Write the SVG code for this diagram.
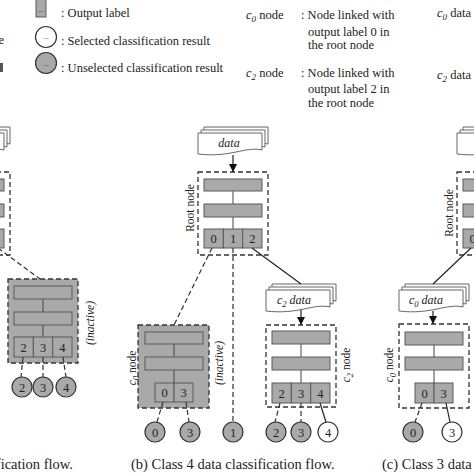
<svg xmlns="http://www.w3.org/2000/svg" width="474" height="474" viewBox="0 0 474 474">
<style>
text{font-family:"Liberation Serif","DejaVu Serif",serif;fill:#222}
.lg{font-size:12.5px}
.cap{font-size:14.5px}
.num{font-size:12.5px;text-anchor:middle}
.rl{font-size:11.5px;text-anchor:middle}
.it{font-style:italic}
.dt{font-size:12px;font-style:italic;text-anchor:middle}
.bar{fill:#a9a9a9;stroke:#5a5a5a;stroke-width:1}
.box{fill:none;stroke:#333;stroke-width:1.3;stroke-dasharray:5 3}
.boxg{fill:#a9a9a9;stroke:#333;stroke-width:1.3;stroke-dasharray:5 3}
.vl{stroke:#444;stroke-width:1;fill:none}
.dl{stroke:#333;stroke-width:1.2;stroke-dasharray:5 3;fill:none}
.sl{stroke:#222;stroke-width:1.2;fill:none}
.cg{fill:#a9a9a9;stroke:#333;stroke-width:1.2}
.cw{fill:#fff;stroke:#333;stroke-width:1.2}
.doc{fill:#fff;stroke:#666;stroke-width:1}
</style>
<defs>
<path id="doc" d="M0,0 H64 V17 C48,13 32,25 0,21 Z"/>
<g id="stack">
<use href="#doc" class="doc" transform="translate(6,-6)"/>
<use href="#doc" class="doc" transform="translate(3,-3)"/>
<use href="#doc" class="doc"/>
</g>
<marker id="ah" viewBox="0 0 10 10" refX="10" refY="5" markerWidth="8" markerHeight="8" markerUnits="userSpaceOnUse" orient="auto">
<path d="M0,0 L10,5 L0,10 Z" fill="#111"/>
</marker>
</defs>

<!-- Legend -->
<g id="legend">
<text class="lg" x="4" y="44" text-anchor="end">e</text>
<rect x="-10" y="63" width="13" height="9" fill="#555"/>
<rect x="36" y="-2" width="10" height="19" class="bar"/>
<text x="41" y="12" font-size="7" text-anchor="middle">...</text>
<text class="lg" x="61" y="17">: Output label</text>
<circle cx="46" cy="37" r="10.5" class="cw"/>
<text x="46" y="39" font-size="7" text-anchor="middle">...</text>
<text class="lg" x="61" y="45">: Selected classification result</text>
<circle cx="46" cy="63" r="10.5" class="cg"/>
<text x="46" y="66" font-size="7" text-anchor="middle">...</text>
<text class="lg" x="61" y="72">: Unselected classification result</text>
<text class="lg" x="246" y="19"><tspan class="it">c</tspan><tspan class="it" font-size="9" dy="3">0</tspan><tspan dy="-3"> node</tspan></text>
<text class="lg" x="301" y="19">: Node linked with</text>
<text class="lg" x="308" y="36">output label 0 in</text>
<text class="lg" x="308" y="49">the root node</text>
<text class="lg" x="246" y="77"><tspan class="it">c</tspan><tspan class="it" font-size="9" dy="3">2</tspan><tspan dy="-3"> node</tspan></text>
<text class="lg" x="301" y="77">: Node linked with</text>
<text class="lg" x="308" y="93">output label 2 in</text>
<text class="lg" x="308" y="107">the root node</text>
<text class="lg" x="437" y="17"><tspan class="it">c</tspan><tspan class="it" font-size="9" dy="3">0</tspan><tspan dy="-3"> data</tspan></text>
<text class="lg" x="437" y="79"><tspan class="it">c</tspan><tspan class="it" font-size="9" dy="3">2</tspan><tspan dy="-3"> data</tspan></text>
</g>

<!-- Panel (a) -->
<g id="a-data"><use href="#stack" transform="translate(-60,133)"/></g>
<g id="a-root">
<rect x="-60" y="172" width="70" height="83" class="box"/>
<rect x="-54" y="179" width="58" height="12" class="bar"/>
<rect x="-54" y="204" width="58" height="13" class="bar"/>
<rect x="-54" y="229" width="58" height="19" class="bar"/>
</g>
<g id="a-c2node">
<rect x="8" y="279" width="70" height="84" class="boxg"/>
<line x1="43" y1="299" x2="43" y2="312" class="vl"/>
<line x1="43" y1="325" x2="43" y2="337" class="vl"/>
<rect x="14" y="286" width="58" height="13" class="bar"/>
<rect x="14" y="312" width="58" height="13" class="bar"/>
<rect x="14" y="337" width="19.33" height="20" class="bar"/>
<rect x="33.33" y="337" width="19.33" height="20" class="bar"/>
<rect x="52.67" y="337" width="19.33" height="20" class="bar"/>
<text class="num" x="23.7" y="352">2</text>
<text class="num" x="43" y="352">3</text>
<text class="num" x="62.3" y="352">4</text>
<text class="rl it" transform="translate(94,323) rotate(-90)">(inactive)</text>
</g>
<g id="a-results">
<circle cx="22" cy="387" r="10" class="cg"/><text class="num" x="22" y="391.5">2</text>
<circle cx="43" cy="387" r="10" class="cg"/><text class="num" x="43" y="391.5">3</text>
<circle cx="66" cy="387" r="10" class="cg"/><text class="num" x="66" y="391.5">4</text>
</g>
<text class="cap" x="73" y="469" text-anchor="end">classification flow.</text>

<!-- Panel (b) -->
<g id="b-data">
<use href="#stack" transform="translate(198,133)"/>
<text class="dt" x="229" y="147">data</text>
</g>
<g id="b-root">
<rect x="198" y="172" width="70" height="83" class="box"/>
<line x1="233" y1="191" x2="233" y2="204" class="vl"/>
<line x1="233" y1="217" x2="233" y2="229" class="vl"/>
<rect x="204" y="179" width="58" height="12" class="bar"/>
<rect x="204" y="204" width="58" height="13" class="bar"/>
<rect x="204" y="229" width="19.33" height="19" class="bar"/>
<rect x="223.33" y="229" width="19.33" height="19" class="bar"/>
<rect x="242.67" y="229" width="19.33" height="19" class="bar"/>
<text class="num" x="213.7" y="243">0</text>
<text class="num" x="233" y="243">1</text>
<text class="num" x="252.3" y="243">2</text>
<text class="rl" transform="translate(194,208) rotate(-90)">Root node</text>
</g>
<g id="b-c0node">
<rect x="138" y="325" width="71" height="83" class="boxg"/>
<line x1="174" y1="344" x2="174" y2="357" class="vl"/>
<line x1="174" y1="370" x2="174" y2="383" class="vl"/>
<rect x="145" y="332" width="58" height="12" class="bar"/>
<rect x="145" y="357" width="58" height="13" class="bar"/>
<rect x="155" y="383" width="19" height="19" class="bar"/>
<rect x="174" y="383" width="19" height="19" class="bar"/>
<text class="num" x="164.5" y="397">0</text>
<text class="num" x="183.5" y="397">3</text>
<text class="rl" transform="translate(136,368) rotate(-90)"><tspan class="it">c</tspan><tspan class="it" font-size="8.5" dy="3">0</tspan><tspan dy="-3"> node</tspan></text>
<text class="rl it" transform="translate(223,363) rotate(-90)">(inactive)</text>
</g>
<g id="b-c2data">
<use href="#stack" transform="translate(266,290)"/>
<text class="dt" x="294" y="304"><tspan>c</tspan><tspan font-size="8.5" dy="3">2</tspan><tspan dy="-3"> data</tspan></text>
</g>
<g id="b-c2node">
<rect x="266" y="325" width="70" height="82" class="box"/>
<line x1="301" y1="344" x2="301" y2="357" class="vl"/>
<line x1="301" y1="370" x2="301" y2="383" class="vl"/>
<rect x="272" y="331" width="58" height="13" class="bar"/>
<rect x="272" y="357" width="58" height="13" class="bar"/>
<rect x="272" y="383" width="19.33" height="20" class="bar"/>
<rect x="291.33" y="383" width="19.33" height="20" class="bar"/>
<rect x="310.67" y="383" width="19.33" height="20" class="bar"/>
<text class="num" x="281.7" y="398">2</text>
<text class="num" x="301" y="398">3</text>
<text class="num" x="320.3" y="398">4</text>
<text class="rl" transform="translate(350,365) rotate(-90)"><tspan class="it">c</tspan><tspan class="it" font-size="8.5" dy="3">2</tspan><tspan dy="-3"> node</tspan></text>
</g>
<g id="b-results">
<circle cx="155" cy="432" r="10" class="cg"/><text class="num" x="155" y="436.5">0</text>
<circle cx="190" cy="432" r="10" class="cg"/><text class="num" x="190" y="436.5">3</text>
<circle cx="233" cy="432" r="10" class="cg"/><text class="num" x="233" y="436.5">1</text>
<circle cx="276" cy="432" r="10" class="cg"/><text class="num" x="276" y="436.5">2</text>
<circle cx="301" cy="432" r="10" class="cg"/><text class="num" x="301" y="436.5">3</text>
<circle cx="328" cy="432" r="10" class="cw"/><text class="num" x="328" y="436.5">4</text>
</g>
<text class="cap" x="131" y="469">(b) Class 4 data classification flow.</text>

<!-- Panel (c) -->
<g id="c-data"><use href="#stack" transform="translate(457,133)"/></g>
<g id="c-root">
<rect x="457" y="172" width="70" height="83" class="box"/>
<rect x="463" y="179" width="58" height="12" class="bar"/>
<rect x="463" y="204" width="58" height="13" class="bar"/>
<rect x="463" y="229" width="19.33" height="19" class="bar"/>
<rect x="482.33" y="229" width="19.33" height="19" class="bar"/>
<text class="num" x="472.7" y="243">0</text>
<text class="rl" transform="translate(453,213) rotate(-90)">Root node</text>
</g>
<g id="c-c0data">
<use href="#stack" transform="translate(399,290)"/>
<text class="dt" x="426" y="304"><tspan>c</tspan><tspan font-size="8.5" dy="3">0</tspan><tspan dy="-3"> data</tspan></text>
</g>
<g id="c-c0node">
<rect x="399" y="324" width="70" height="84" class="box"/>
<line x1="434" y1="345" x2="434" y2="357" class="vl"/>
<line x1="434" y1="370" x2="434" y2="383" class="vl"/>
<rect x="405" y="332" width="58" height="13" class="bar"/>
<rect x="405" y="357" width="58" height="13" class="bar"/>
<rect x="415" y="383" width="19" height="20" class="bar"/>
<rect x="434" y="383" width="19" height="20" class="bar"/>
<text class="num" x="424.5" y="398">0</text>
<text class="num" x="443.5" y="398">3</text>
<text class="rl" transform="translate(393,365) rotate(-90)"><tspan class="it">c</tspan><tspan class="it" font-size="8.5" dy="3">0</tspan><tspan dy="-3"> node</tspan></text>
</g>
<g id="c-results">
<circle cx="413" cy="432" r="10" class="cg"/><text class="num" x="413" y="436.5">0</text>
<circle cx="452" cy="432" r="10" class="cw"/><text class="num" x="452" y="436.5">3</text>
</g>
<text class="cap" x="382" y="469">(c) Class 3 data classification flow.</text>

<!-- Connectors -->
<g id="connectors">
<line x1="-2" y1="248" x2="40" y2="279" class="dl"/>
<line x1="23" y1="357" x2="21" y2="377" class="dl"/>
<line x1="43" y1="357" x2="43" y2="377" class="dl"/>
<line x1="63" y1="357" x2="66" y2="377" class="dl"/>
<line x1="233" y1="155" x2="233" y2="172" class="sl" marker-end="url(#ah)"/>
<line x1="212" y1="248" x2="174" y2="325" class="dl"/>
<line x1="233" y1="248" x2="233" y2="422" class="dl"/>
<line x1="252" y1="248" x2="301" y2="284" class="sl"/>
<line x1="301" y1="310" x2="301" y2="325" class="sl" marker-end="url(#ah)"/>
<line x1="163" y1="402" x2="157" y2="422" class="dl"/>
<line x1="186" y1="402" x2="189" y2="422" class="dl"/>
<line x1="280" y1="403" x2="275" y2="422" class="dl"/>
<line x1="301" y1="403" x2="301" y2="422" class="dl"/>
<line x1="320" y1="403" x2="326" y2="422" class="sl"/>
<line x1="471" y1="248" x2="433" y2="284" class="sl"/>
<line x1="433" y1="311" x2="433" y2="324" class="sl" marker-end="url(#ah)"/>
<line x1="422" y1="403" x2="415" y2="422" class="dl"/>
<line x1="446" y1="403" x2="450" y2="422" class="sl"/>
</g>
</svg>
